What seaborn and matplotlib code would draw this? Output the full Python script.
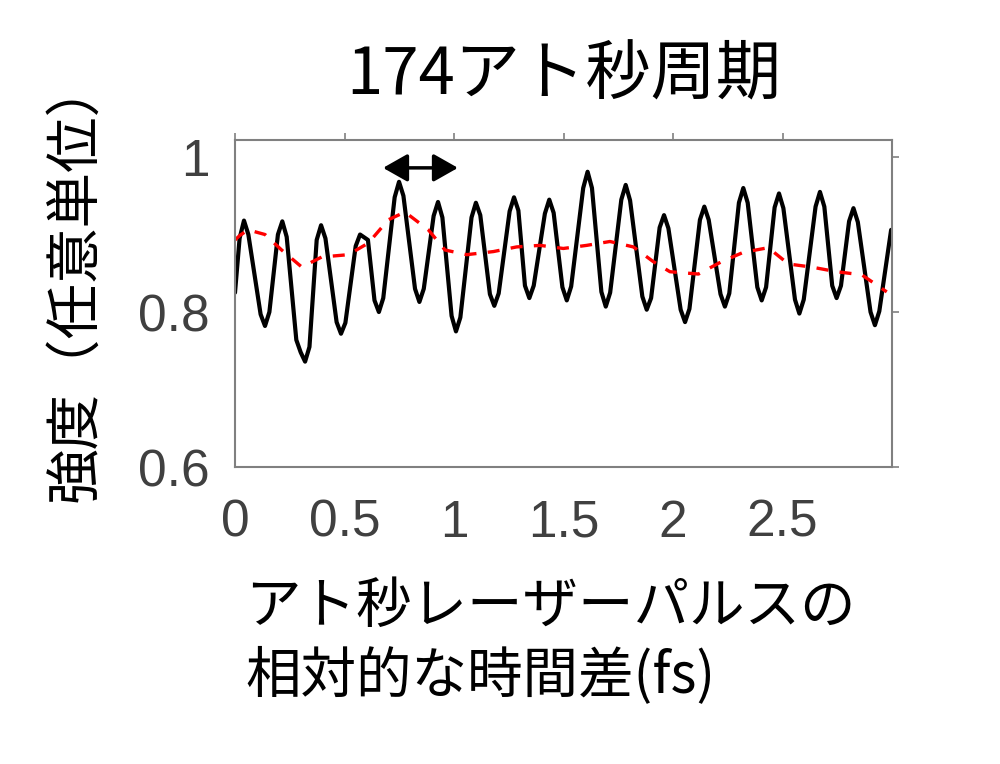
import matplotlib
matplotlib.use("Agg")
import matplotlib.pyplot as plt
import seaborn as sns

# signal (black): peaks, troughs and the flanks beside them
signal_t = [0.0, 0.021, 0.041, 0.061, 0.117, 0.137, 0.157, 0.196, 0.216, 0.236,
            0.28, 0.300, 0.320, 0.340, 0.373, 0.393, 0.413, 0.464, 0.484, 0.504,
            0.551, 0.571, 0.607, 0.637, 0.657, 0.677, 0.729, 0.749, 0.769,
            0.822, 0.842, 0.862, 0.907, 0.927, 0.947, 0.989, 1.009, 1.029,
            1.080, 1.100, 1.120, 1.164, 1.184, 1.204, 1.254, 1.274, 1.294,
            1.324, 1.344, 1.364, 1.415, 1.435, 1.455, 1.495, 1.515, 1.535,
            1.590, 1.610, 1.630, 1.673, 1.693, 1.713, 1.764, 1.784, 1.804,
            1.860, 1.880, 1.900, 1.939, 1.959, 1.979, 2.035, 2.055, 2.075,
            2.123, 2.143, 2.163, 2.217, 2.237, 2.257, 2.301, 2.321, 2.341,
            2.385, 2.405, 2.425, 2.464, 2.484, 2.504, 2.557, 2.577, 2.597,
            2.651, 2.671, 2.691, 2.727, 2.747, 2.767, 2.804, 2.824, 2.844,
            2.902, 2.922, 2.942, 2.996]
signal_v = [0.825, 0.895, 0.918, 0.900, 0.797, 0.782, 0.800, 0.900, 0.917, 0.897,
            0.764, 0.748, 0.736, 0.755, 0.893, 0.912, 0.895, 0.787, 0.772, 0.786,
            0.885, 0.900, 0.893, 0.815, 0.800, 0.818, 0.948, 0.968, 0.950,
            0.830, 0.813, 0.830, 0.924, 0.942, 0.922, 0.795, 0.775, 0.793,
            0.922, 0.941, 0.925, 0.823, 0.808, 0.824, 0.930, 0.948, 0.931,
            0.834, 0.818, 0.834, 0.927, 0.945, 0.928, 0.832, 0.815, 0.833,
            0.960, 0.981, 0.960, 0.826, 0.807, 0.825, 0.945, 0.964, 0.944,
            0.820, 0.803, 0.818, 0.909, 0.925, 0.908, 0.803, 0.787, 0.804,
            0.919, 0.936, 0.919, 0.823, 0.807, 0.824, 0.941, 0.960, 0.941,
            0.832, 0.815, 0.832, 0.935, 0.953, 0.934, 0.816, 0.798, 0.816,
            0.936, 0.955, 0.936, 0.834, 0.818, 0.834, 0.917, 0.934, 0.916,
            0.800, 0.783, 0.801, 0.906]

# slow component (red dashed)
slow_t = [0.0, 0.023, 0.06, 0.137, 0.213, 0.305, 0.396, 0.518, 0.609, 0.700, 0.776,
          0.883, 0.959, 1.058, 1.180, 1.286, 1.393, 1.499, 1.606, 1.712, 1.819,
          1.910, 1.986, 2.116, 2.222, 2.321, 2.435, 2.527, 2.633, 2.747, 2.862, 2.976]
slow_v = [0.893, 0.899, 0.906, 0.900, 0.880, 0.858, 0.871, 0.874, 0.889, 0.919, 0.929,
          0.906, 0.880, 0.874, 0.878, 0.884, 0.886, 0.882, 0.886, 0.891, 0.884,
          0.865, 0.852, 0.849, 0.865, 0.877, 0.883, 0.862, 0.858, 0.852, 0.848, 0.826]

x_ticks = [0, 0.5, 1, 1.5, 2, 2.5]
x_labels = ["0", "0.5", "1", "1.5", "2", "2.5"]
y_ticks = [0.6, 0.8, 1.0]
y_labels = ["0.6", "0.8", "1"]

sns.set_style("white")
plt.rcParams['font.family'] = ['Noto Sans CJK JP', 'DejaVu Sans']

fig = plt.figure(figsize=(10, 7.64), dpi=100)
ax = fig.add_axes([0.235, 0.3887, 0.657, 0.4281])

sns.lineplot(x=signal_t, y=signal_v, ax=ax, color="black", linewidth=3.0, sort=False,
             solid_joinstyle="round")
sns.lineplot(x=slow_t, y=slow_v, ax=ax, color="red", linewidth=2.4, sort=False,
             linestyle=(0, (3.6, 3.4)))

# period marker
ax.annotate("", xy=(0.676, 0.986), xytext=(1.018, 0.986),
            arrowprops=dict(arrowstyle="<|-|>,head_length=1.5,head_width=0.85",
                            color="black", lw=2.5, shrinkA=0, shrinkB=0))

ax.set_xlim(0, 3.0)
ax.set_ylim(0.6, 1.022)
ax.set_xticks(x_ticks)
ax.set_xticklabels(x_labels, family=['Liberation Sans'])
ax.set_yticks(y_ticks)
ax.set_yticklabels(y_labels, family=['Liberation Sans'])

for s in ax.spines.values():
    s.set_color("#808080")
    s.set_linewidth(1.5)
ax.tick_params(axis="both", direction="out", length=5, width=1.2, color="#808080",
               labelsize=37, labelcolor="#404040", top=True, right=True,
               labeltop=False, labelright=False)
ax.tick_params(axis="x", pad=18)
ax.tick_params(axis="y", pad=13)

ax.set_title("174アト秒周期", fontsize=47, color="black", pad=33)
fig.text(0.245, 0.160, "アト秒レーザーパルスの\n相対的な時間差(fs)", fontsize=40,
         ha="left", va="center", linespacing=1.25, color="black")
fig.text(0.075, 0.634, "強度（任意単位）", fontsize=40, rotation=90,
         ha="center", va="center", color="black")

fig.savefig("out.png", dpi=100)
